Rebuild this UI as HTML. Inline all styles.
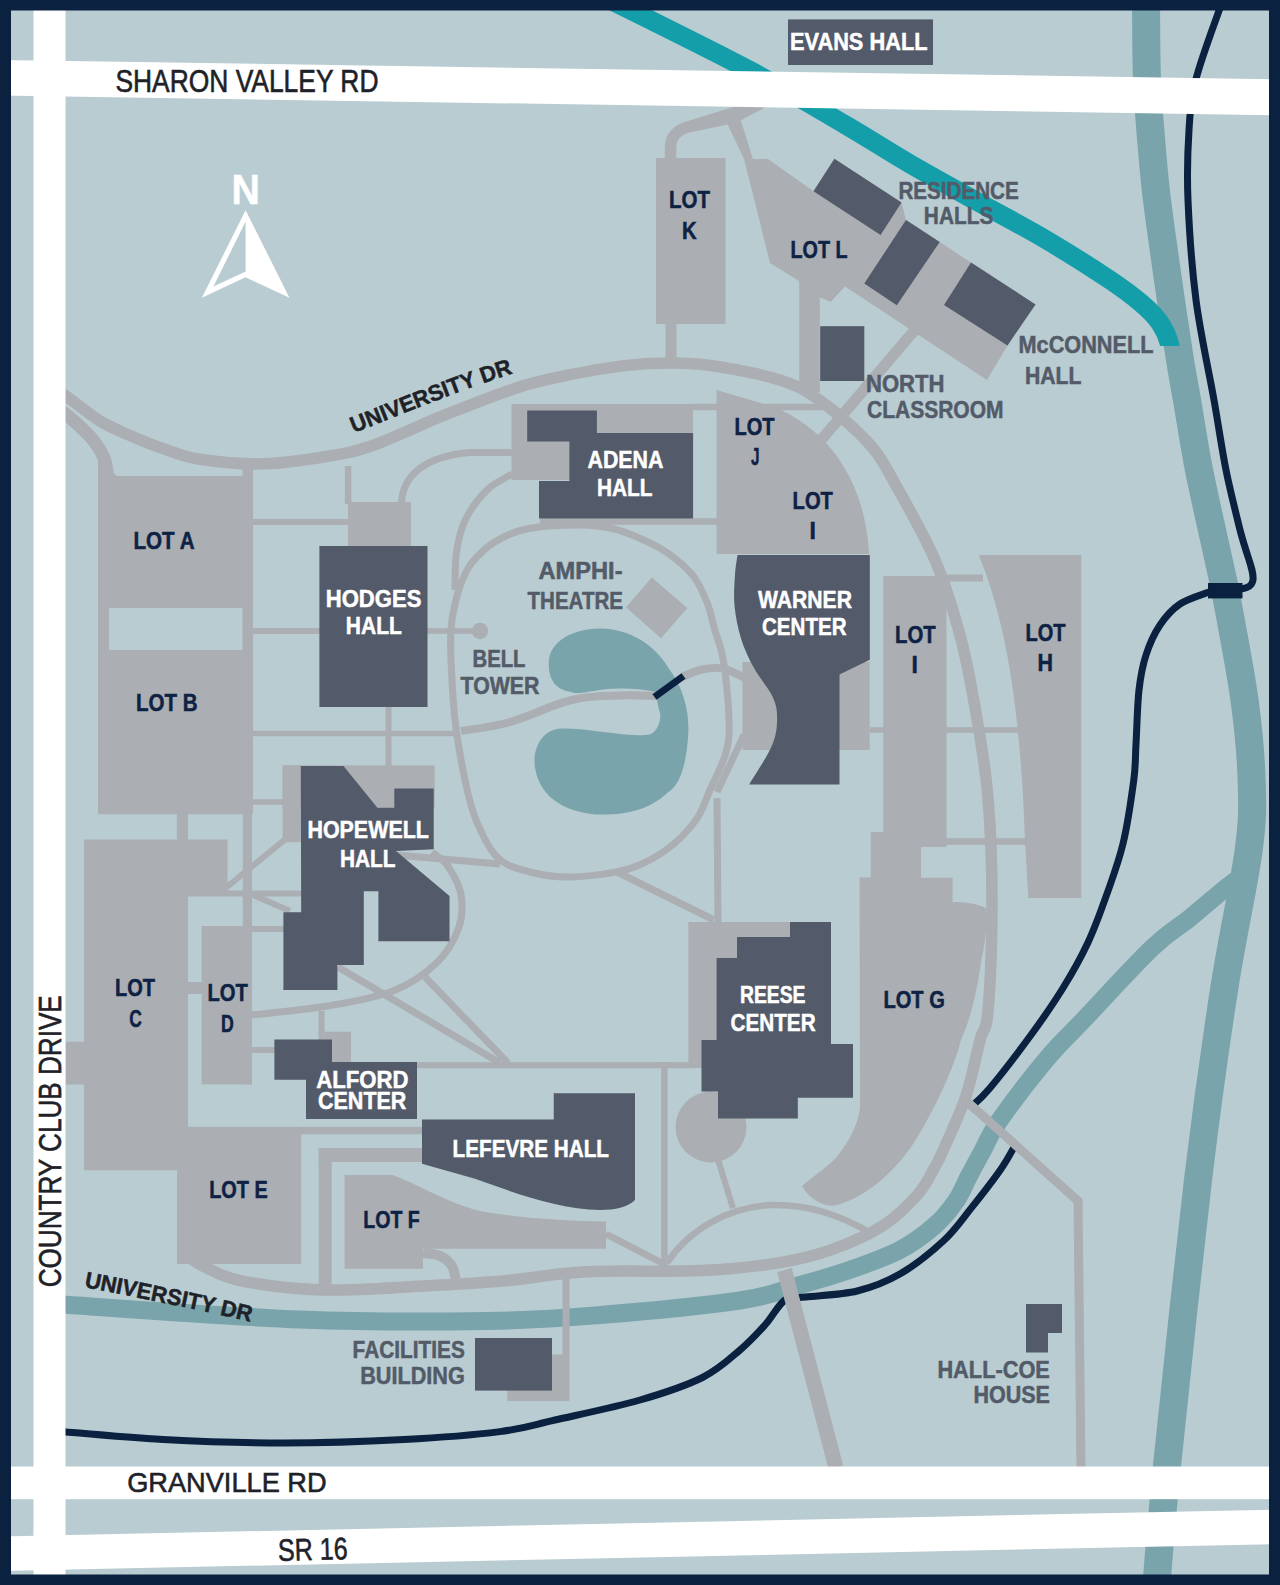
<!DOCTYPE html>
<html><head><meta charset="utf-8"><style>
html,body{margin:0;padding:0;background:#b9ccd1;}
svg{display:block;}
text{font-family:"Liberation Sans",sans-serif;}
</style></head><body>
<svg width="1280" height="1585" viewBox="0 0 1280 1585">
<rect fill="#b9ccd1" x="0.0" y="0.0" width="1280.0" height="1585.0"/>
<path d="M1146.0,-5.0 C1146.2,9.0 1146.0,53.2 1147.0,79.0 C1148.0,104.8 1150.3,129.8 1152.0,150.0 C1153.7,170.2 1154.3,178.3 1157.0,200.0 C1159.7,221.7 1164.2,253.3 1168.0,280.0 C1171.8,306.7 1176.8,340.0 1180.0,360.0 C1183.2,380.0 1183.8,381.7 1187.0,400.0 C1190.2,418.3 1193.7,443.3 1199.0,470.0 C1204.3,496.7 1213.9,538.3 1218.6,560.0 C1223.3,581.7 1222.7,576.7 1227.0,600.0 C1231.3,623.3 1240.4,670.0 1244.5,700.0 C1248.6,730.0 1250.9,755.0 1251.6,780.0 C1252.3,805.0 1253.3,815.0 1248.7,850.0 C1244.1,885.0 1232.5,935.0 1224.0,990.0 C1215.5,1045.0 1207.5,1100.7 1198.0,1180.0 C1188.5,1259.3 1174.0,1397.7 1167.0,1466.0 C1160.0,1534.3 1157.8,1569.3 1156.0,1590.0" fill="none" stroke="#79a4ac" stroke-width="28.0" stroke-linecap="butt" stroke-linejoin="round"/>
<path d="M55.0,1304.0 C95.8,1306.6 228.0,1316.7 300.0,1319.5 C372.0,1322.3 437.0,1321.8 487.0,1321.0 C537.0,1320.2 557.8,1318.4 600.0,1315.0 C642.2,1311.6 707.1,1305.4 740.0,1300.5 C772.9,1295.6 779.1,1290.8 797.2,1285.8 C815.3,1280.8 831.6,1276.3 848.8,1270.3 C865.9,1264.3 886.0,1257.2 900.3,1249.7 C914.6,1242.2 925.4,1233.7 934.7,1225.6 C944.0,1217.5 950.3,1209.3 956.0,1201.0 C961.7,1192.7 964.5,1184.5 969.0,1176.0 C973.5,1167.5 978.0,1159.1 983.0,1150.0 C988.0,1140.9 988.3,1136.3 998.8,1121.3 C1009.3,1106.3 1031.6,1077.0 1045.8,1060.0 C1060.0,1043.0 1066.0,1038.3 1083.8,1019.6 C1101.5,1000.9 1134.3,964.9 1152.0,948.0 C1169.7,931.1 1177.5,928.2 1190.0,918.0 C1202.5,907.8 1217.8,894.3 1227.0,887.0 C1236.2,879.7 1242.0,876.2 1245.0,874.0" fill="none" stroke="#79a4ac" stroke-width="18.0" stroke-linecap="butt" stroke-linejoin="round"/>
<clipPath id="tclip"><rect x="0" y="0" width="1280" height="346"/></clipPath>
<g clip-path="url(#tclip)"><path d="M600.0,-5.0 C624.8,7.5 708.1,48.3 749.0,70.0 C789.9,91.7 818.6,109.2 845.6,125.0 C872.6,140.8 889.1,151.8 911.0,164.5 C932.9,177.2 955.1,189.3 977.0,201.5 C998.9,213.7 1020.7,224.8 1042.5,237.6 C1064.3,250.4 1091.6,267.7 1108.0,278.6 C1124.4,289.5 1132.3,295.6 1141.0,303.0 C1149.7,310.4 1155.2,315.8 1160.0,323.0 C1164.8,330.2 1168.0,336.5 1170.0,346.0 C1172.0,355.5 1171.7,374.3 1172.0,380.0" fill="none" stroke="#139ea9" stroke-width="19.0" stroke-linecap="butt" stroke-linejoin="round"/></g>
<path d="M55.0,390.0 C56.8,391.0 58.5,390.8 66.0,396.0 C73.5,401.2 89.1,414.3 100.0,421.0 C110.9,427.7 120.8,431.4 131.2,436.0 C141.7,440.6 151.0,444.5 162.5,448.4 C174.0,452.3 182.9,456.6 200.0,459.2 C217.1,461.8 243.3,464.4 265.0,463.8 C286.7,463.2 312.1,458.9 330.0,455.9 C347.9,452.8 355.0,451.6 372.5,445.5 C390.0,439.4 420.4,425.1 435.0,419.0 C449.6,412.9 445.8,414.4 460.0,409.0 C474.2,403.6 502.5,392.4 520.0,386.8 C537.5,381.2 547.1,379.3 565.0,375.7 C582.9,372.1 606.7,367.4 627.5,365.4 C648.3,363.4 669.4,362.4 690.0,363.6 C710.6,364.8 733.3,369.0 751.0,372.7 C768.7,376.4 783.5,380.6 796.0,386.0 C808.5,391.4 816.4,398.0 826.0,405.0 C835.6,412.0 845.2,420.2 853.5,428.0 C861.8,435.8 869.4,443.3 876.0,452.0 C882.6,460.7 883.2,462.0 893.0,480.0 C902.8,498.0 923.7,533.5 935.0,560.0 C946.3,586.5 954.0,612.5 961.0,639.0 C968.0,665.5 972.5,692.5 977.0,719.0 C981.5,745.5 985.5,767.8 988.0,798.0 C990.5,828.2 992.0,864.5 992.0,900.0 C992.0,935.5 990.0,987.7 988.0,1011.0 C986.0,1034.3 983.7,1025.8 980.0,1040.0 C976.3,1054.2 972.1,1077.7 966.0,1096.0 C959.9,1114.3 948.5,1138.1 943.3,1150.0 C938.1,1161.9 939.0,1159.8 934.7,1167.2 C930.4,1174.7 926.1,1185.0 917.5,1194.7 C908.9,1204.4 897.3,1216.4 883.0,1225.6 C868.7,1234.8 848.8,1243.5 831.6,1249.7 C814.4,1255.9 801.9,1259.1 780.0,1262.6 C758.1,1266.1 732.3,1269.1 700.0,1270.6 C667.7,1272.1 618.5,1270.1 586.0,1271.8 C553.5,1273.5 532.0,1278.4 505.0,1280.8 C478.0,1283.2 454.2,1284.5 423.8,1286.0 C393.2,1287.5 352.5,1290.9 322.0,1290.0 C291.5,1289.1 260.7,1284.7 241.0,1280.8 C221.3,1276.9 212.5,1270.4 204.0,1266.6 C195.5,1262.8 192.3,1259.4 190.0,1258.0" fill="none" stroke="#abaeb2" stroke-width="11.5" stroke-linecap="butt" stroke-linejoin="round"/>
<path d="M58.0,408.0 C60.8,410.3 69.2,416.7 75.0,422.0 C80.8,427.3 88.2,434.0 93.0,440.0 C97.8,446.0 101.5,451.7 104.0,458.0 C106.5,464.3 107.3,474.7 108.0,478.0" fill="none" stroke="#abaeb2" stroke-width="13.0" stroke-linecap="butt" stroke-linejoin="round"/>
<path fill="#abaeb2" d="M664.8,159 L664.8,147 C664.8,135 673,124 688,121 L736.4,106 L767.6,106 L740.8,120.2 L752.8,159 L744,159 L727.7,124.5 L690,132.5 C680,135 676.3,140 676.3,148 L676.3,159 Z"/>
<path d="M671.0,322.0 L671.0,366.0" fill="none" stroke="#abaeb2" stroke-width="11.0" stroke-linecap="butt" stroke-linejoin="miter"/>
<path d="M809.5,280.0 L809.5,392.0" fill="none" stroke="#abaeb2" stroke-width="20.5" stroke-linecap="butt" stroke-linejoin="miter"/>
<path d="M919.0,325.0 L816.0,446.0" fill="none" stroke="#abaeb2" stroke-width="11.0" stroke-linecap="butt" stroke-linejoin="miter"/>
<path d="M348.1,466.0 L348.1,504.0" fill="none" stroke="#abaeb2" stroke-width="6.5" stroke-linecap="butt" stroke-linejoin="miter"/>
<path d="M250.0,522.0 L350.0,522.0" fill="none" stroke="#abaeb2" stroke-width="6.0" stroke-linecap="butt" stroke-linejoin="miter"/>
<path d="M250.0,631.0 L320.0,631.0" fill="none" stroke="#abaeb2" stroke-width="6.0" stroke-linecap="butt" stroke-linejoin="miter"/>
<path d="M427.0,631.0 L478.0,631.0" fill="none" stroke="#abaeb2" stroke-width="5.5" stroke-linecap="butt" stroke-linejoin="miter"/>
<circle cx="480" cy="631" r="8.2" fill="#abaeb2"/>
<path d="M252.0,733.4 L455.0,733.4" fill="none" stroke="#abaeb2" stroke-width="5.5" stroke-linecap="butt" stroke-linejoin="miter"/>
<path d="M388.5,707.0 L388.5,808.0" fill="none" stroke="#abaeb2" stroke-width="6.0" stroke-linecap="butt" stroke-linejoin="miter"/>
<path d="M401.5,504 C402,476 425,456 470,452.5 L514,452.5" fill="none" stroke="#abaeb2" stroke-width="7.0" stroke-linecap="butt" stroke-linejoin="round"/>
<path d="M512.0,474.0 C507.8,476.7 494.8,482.3 487.0,490.0 C479.2,497.7 470.3,509.5 465.2,520.0 C460.1,530.5 458.1,541.1 456.4,552.8 C454.7,564.5 455.2,583.8 455.0,590.0" fill="none" stroke="#abaeb2" stroke-width="7.0" stroke-linecap="butt" stroke-linejoin="round"/>
<path d="M690.0,407.0 L824.0,407.0" fill="none" stroke="#abaeb2" stroke-width="6.5" stroke-linecap="butt" stroke-linejoin="miter"/>
<path d="M540.0,521.5 L718.0,521.5" fill="none" stroke="#abaeb2" stroke-width="6.5" stroke-linecap="butt" stroke-linejoin="miter"/>
<path d="M580.0,525.0 C593.8,524.9 601.2,526.3 610.0,528.0 C618.8,529.7 623.5,531.3 632.8,535.2 C642.1,539.1 655.6,544.9 665.6,551.6 C675.6,558.3 686.1,567.0 693.0,575.6 C699.9,584.2 703.6,593.9 707.2,603.0 C710.9,612.1 712.2,620.8 714.9,630.3 C717.6,639.8 720.9,645.0 723.3,660.0 C725.6,675.0 728.5,704.6 729.0,720.0 C729.5,735.4 729.2,740.8 726.0,752.5 C722.8,764.2 715.0,778.8 710.0,790.0 C705.0,801.2 703.3,810.0 696.0,820.0 C688.7,830.0 677.2,841.9 666.0,850.0 C654.8,858.1 644.3,864.2 628.8,868.8 C613.2,873.2 589.0,876.5 572.5,877.0 C556.0,877.5 542.5,875.2 530.0,872.0 C517.5,868.8 506.5,866.2 497.5,857.5 C488.5,848.8 481.4,832.9 476.0,820.0 C470.6,807.1 468.5,796.7 465.0,780.0 C461.5,763.3 457.3,740.0 455.0,720.0 C452.7,700.0 451.7,675.1 451.0,660.0 C450.3,644.9 450.5,638.1 451.0,629.4 C451.5,620.6 452.4,615.5 454.2,607.5 C456.0,599.5 458.8,588.9 461.9,581.3 C465.0,573.6 467.3,568.2 472.8,561.6 C478.3,555.0 485.6,547.4 494.7,541.9 C503.8,536.4 513.3,531.6 527.5,528.8 C541.7,525.9 566.2,525.1 580.0,525.0Z" fill="none" stroke="#abaeb2" stroke-width="7.0" stroke-linecap="butt" stroke-linejoin="round"/>
<path d="M461.0,731.0 C469.2,729.5 491.6,727.2 510.0,722.0 C528.4,716.8 553.2,704.4 571.5,700.0 C589.8,695.6 605.9,696.2 620.0,695.5 C634.1,694.8 650.0,695.9 656.0,696.0" fill="none" stroke="#abaeb2" stroke-width="8.0" stroke-linecap="butt" stroke-linejoin="round"/>
<path d="M682.0,677.0 C685.3,675.8 695.0,670.9 701.8,669.5 C708.6,668.1 715.8,667.1 723.0,668.5 C730.2,669.9 741.3,676.4 745.0,678.0" fill="none" stroke="#abaeb2" stroke-width="8.0" stroke-linecap="butt" stroke-linejoin="round"/>
<path d="M744.0,735.0 L717.0,792.0" fill="none" stroke="#abaeb2" stroke-width="7.0" stroke-linecap="butt" stroke-linejoin="miter"/>
<path d="M717.0,798.0 L718.0,924.0" fill="none" stroke="#abaeb2" stroke-width="7.0" stroke-linecap="butt" stroke-linejoin="miter"/>
<path d="M617.0,872.0 L714.0,920.0" fill="none" stroke="#abaeb2" stroke-width="7.0" stroke-linecap="butt" stroke-linejoin="miter"/>
<path d="M396.0,855.0 L500.0,864.0" fill="none" stroke="#abaeb2" stroke-width="7.0" stroke-linecap="butt" stroke-linejoin="miter"/>
<path d="M226.6,887.3 L286.0,838.6" fill="none" stroke="#abaeb2" stroke-width="6.0" stroke-linecap="butt" stroke-linejoin="miter"/>
<path d="M252.0,894.5 L290.0,911.0" fill="none" stroke="#abaeb2" stroke-width="6.0" stroke-linecap="butt" stroke-linejoin="miter"/>
<path d="M227.0,893.5 L302.0,893.5" fill="none" stroke="#abaeb2" stroke-width="6.0" stroke-linecap="butt" stroke-linejoin="miter"/>
<path d="M250.0,802.0 L284.0,802.0" fill="none" stroke="#abaeb2" stroke-width="5.5" stroke-linecap="butt" stroke-linejoin="miter"/>
<path d="M250.0,929.0 L284.0,929.0" fill="none" stroke="#abaeb2" stroke-width="6.0" stroke-linecap="butt" stroke-linejoin="miter"/>
<path d="M250.0,1050.0 L275.0,1050.0" fill="none" stroke="#abaeb2" stroke-width="6.0" stroke-linecap="butt" stroke-linejoin="miter"/>
<path d="M186.0,988.0 L203.0,988.0" fill="none" stroke="#abaeb2" stroke-width="12.0" stroke-linecap="butt" stroke-linejoin="miter"/>
<path d="M338.0,967.0 L500.0,1063.0" fill="none" stroke="#abaeb2" stroke-width="7.0" stroke-linecap="butt" stroke-linejoin="miter"/>
<path d="M425.0,977.0 L508.0,1063.0" fill="none" stroke="#abaeb2" stroke-width="7.0" stroke-linecap="butt" stroke-linejoin="miter"/>
<path d="M252.0,1015.0 C264.6,1013.5 304.0,1010.0 327.5,1006.0 C351.0,1002.0 374.8,998.2 393.0,991.0 C411.2,983.8 426.0,973.1 437.0,962.5 C448.0,951.9 454.8,938.8 458.8,927.5 C462.8,916.2 462.8,905.0 461.0,894.7 C459.2,884.5 452.6,873.1 447.8,866.0 C443.0,858.9 434.6,854.3 432.0,852.0" fill="none" stroke="#abaeb2" stroke-width="7.0" stroke-linecap="butt" stroke-linejoin="round"/>
<path d="M321.5,1011.0 L321.5,1040.0" fill="none" stroke="#abaeb2" stroke-width="6.0" stroke-linecap="butt" stroke-linejoin="miter"/>
<path d="M417.0,1065.3 L695.0,1065.3" fill="none" stroke="#abaeb2" stroke-width="6.0" stroke-linecap="butt" stroke-linejoin="miter"/>
<path d="M187.0,1130.5 L425.0,1130.5" fill="none" stroke="#abaeb2" stroke-width="7.5" stroke-linecap="butt" stroke-linejoin="miter"/>
<path d="M664.4,1062.0 L664.4,1268.0" fill="none" stroke="#abaeb2" stroke-width="6.5" stroke-linecap="butt" stroke-linejoin="miter"/>
<rect fill="#abaeb2" x="690.0" y="1020.0" width="11.0" height="46.0"/>
<path d="M325.2,1148.0 L325.2,1285.0" fill="none" stroke="#abaeb2" stroke-width="13.0" stroke-linecap="butt" stroke-linejoin="miter"/>
<path d="M318.7,1155.0 L424.0,1155.0" fill="none" stroke="#abaeb2" stroke-width="14.0" stroke-linecap="butt" stroke-linejoin="miter"/>
<path d="M423.0,1253.0 C425.8,1253.5 435.2,1253.8 440.0,1256.0 C444.8,1258.2 449.3,1261.7 452.0,1266.0 C454.7,1270.3 455.3,1279.3 456.0,1282.0" fill="none" stroke="#abaeb2" stroke-width="10.0" stroke-linecap="butt" stroke-linejoin="round"/>
<path d="M606.0,1234.0 L664.0,1264.0" fill="none" stroke="#abaeb2" stroke-width="7.0" stroke-linecap="butt" stroke-linejoin="miter"/>
<path d="M667,1263 C690,1228 730,1207 772,1205 C810,1204 845,1218 869,1232" fill="none" stroke="#abaeb2" stroke-width="6.5" stroke-linecap="butt" stroke-linejoin="round"/>
<path d="M715.6,1152.0 L733.0,1208.0" fill="none" stroke="#abaeb2" stroke-width="6.0" stroke-linecap="butt" stroke-linejoin="miter"/>
<path d="M566.0,1278.0 L566.0,1400.0" fill="none" stroke="#abaeb2" stroke-width="7.0" stroke-linecap="butt" stroke-linejoin="miter"/>
<path d="M945.0,578.0 L983.0,578.0" fill="none" stroke="#abaeb2" stroke-width="7.0" stroke-linecap="butt" stroke-linejoin="miter"/>
<path d="M870.0,730.0 L1020.0,730.0" fill="none" stroke="#abaeb2" stroke-width="5.5" stroke-linecap="butt" stroke-linejoin="miter"/>
<path d="M945.0,841.5 L1030.0,841.5" fill="none" stroke="#abaeb2" stroke-width="6.5" stroke-linecap="butt" stroke-linejoin="miter"/>
<rect fill="#abaeb2" x="656.0" y="158.0" width="69.5" height="166.0"/>
<polygon fill="#abaeb2" points="744.0,159.0 768.0,159.0 813.5,191.3 834.4,158.8 901.5,202.5 906.0,220.0 939.7,242.0 971.0,262.6 1035.5,304.4 1007.5,345.5 987.0,380.0 845.0,286.6 830.8,301.8 820.6,297.7 799.0,281.0 770.0,263.0 755.0,202.5"/>
<path fill="#abaeb2" d="M716.6,390 L774,407 C835,432 866,490 869,554 L716.6,554 Z"/>
<rect fill="#abaeb2" x="511.5" y="404.0" width="181.5" height="76.0"/>
<rect fill="#abaeb2" x="348.0" y="502.0" width="63.0" height="44.0"/>
<polygon fill="#abaeb2" points="98.0,461.0 117.0,476.0 253.0,476.0 253.0,814.2 188.0,814.2 188.0,839.6 227.6,839.6 227.6,896.5 188.0,896.5 188.0,1127.0 301.2,1127.0 301.2,1264.0 177.0,1264.0 177.0,1170.3 84.0,1170.3 84.0,1084.4 65.5,1084.4 65.5,1041.7 84.0,1041.7 84.0,839.6 176.8,839.6 176.8,814.2 98.0,814.2"/>
<rect fill="#b9ccd1" x="109.0" y="608.0" width="133.5" height="42.0"/>
<rect fill="#abaeb2" x="242.5" y="462.0" width="10.5" height="14.0"/>
<rect fill="#abaeb2" x="201.6" y="926.0" width="50.4" height="158.4"/>
<rect fill="#abaeb2" x="242.8" y="814.0" width="9.2" height="270.4"/>
<rect fill="#abaeb2" x="282.6" y="765.4" width="152.1" height="42.3"/>
<rect fill="#abaeb2" x="282.6" y="765.4" width="18.2" height="76.8"/>
<rect fill="#abaeb2" x="742.5" y="662.0" width="127.2" height="88.0"/>
<path fill="#abaeb2" d="M883.3,576 L946.5,576 L946.5,847 L921,847 L921,877.7 L952.6,877.7 L952.6,902 C965,902 978,904 986,908 C987,930 985,945 981.4,960 C977,990 972,1015 961,1040 C955,1065 935,1110 912.5,1145 C895,1170 870,1195 837.5,1205 C825,1208 810,1200 802,1186 C815,1175 830,1165 837.5,1156 C848,1142 856,1130 860,1109 L859.6,877.5 L870.7,877.5 L870.7,832 L883.3,832 Z"/>
<path fill="#abaeb2" d="M978.75,555 L1081.3,555 L1081.3,898 L1028.3,898 L1025,840 C1020,700 1005,620 978.75,555 Z"/>
<rect fill="#abaeb2" x="688.4" y="922.0" width="101.6" height="146.0"/>
<circle cx="711" cy="1127" r="35.5" fill="#abaeb2"/>
<rect fill="#abaeb2" x="324.4" y="1031.7" width="26.6" height="30.3"/>
<path fill="#abaeb2" d="M344.6,1175 L392.6,1175 C420,1185 445,1202 480,1211 C530,1220 580,1221 606,1221.5 L606,1248.8 L423,1248.8 L423,1268.75 L344.6,1268.75 Z"/>
<rect fill="#abaeb2" x="507.3" y="1354.5" width="61.9" height="46.5"/>
<polygon fill="#abaeb2" points="651.8,577.6 687.3,607.9 660.9,638.2 626.0,607.3"/>
<rect fill="#535a69" x="788.0" y="19.4" width="145.0" height="45.6"/>
<polygon fill="#535a69" points="834.4,158.8 901.5,202.5 880.6,235.0 813.5,191.3"/>
<polygon fill="#535a69" points="906.0,220.0 939.7,242.0 896.8,305.2 864.3,283.5"/>
<polygon fill="#535a69" points="971.0,262.6 1035.5,304.4 1007.5,345.5 944.0,304.9"/>
<rect fill="#535a69" x="820.2" y="326.2" width="44.1" height="54.8"/>
<polygon fill="#535a69" points="527.2,410.6 596.9,410.6 596.9,433.1 693.1,433.1 693.1,518.4 539.0,518.4 539.0,481.0 569.4,481.0 569.4,441.6 527.2,441.6"/>
<rect fill="#535a69" x="319.4" y="546.0" width="108.1" height="161.0"/>
<path fill="#535a69" d="M737.5,555 L869.8,555 L869.8,659.8 L839.5,674.5 L839.5,784.5 L749.2,784.5 C753.0,777.9 767.6,756.2 772.2,745.0 C776.9,733.8 777.1,725.4 777.1,717.2 C777.1,709.0 776.1,704.1 772.2,695.9 C768.4,687.7 759.2,677.6 754.0,668.0 C748.8,658.4 744.2,648.8 741.0,638.4 C737.8,628.0 735.5,616.2 734.5,605.6 C733.5,595.0 734.5,583.4 735.0,575.0 C735.5,566.6 737.1,558.3 737.5,555.0 Z"/>
<polygon fill="#535a69" points="300.8,766.0 343.5,766.0 377.4,807.7 394.3,807.7 394.3,788.4 433.7,788.4 433.7,849.3 396.0,851.0 449.5,896.0 449.5,941.3 378.4,941.3 378.4,891.3 363.8,891.3 363.8,965.0 337.4,965.0 337.4,990.0 283.4,990.0 283.4,912.3 301.2,912.3"/>
<polygon fill="#535a69" points="790.0,922.0 831.0,922.0 831.0,1044.0 853.0,1044.0 853.0,1097.8 797.8,1097.8 797.8,1118.4 718.0,1118.4 718.0,1091.6 701.5,1091.6 701.5,1040.0 716.6,1040.0 716.6,958.0 737.0,958.0 737.0,937.0 790.0,937.0"/>
<polygon fill="#535a69" points="274.4,1039.5 332.0,1039.5 332.0,1062.0 417.0,1062.0 417.0,1118.9 306.0,1118.9 306.0,1079.7 274.4,1079.7"/>
<path fill="#535a69" d="M422,1119.5 L553.75,1119.5 L553.75,1093.25 L635,1093.25 L635,1200 C628,1207 615,1210 600,1210 C560,1209 520,1195 475,1178.75 L422,1163.75 Z"/>
<rect fill="#535a69" x="475.0" y="1338.0" width="77.0" height="52.6"/>
<polygon fill="#535a69" points="1026.0,1304.0 1062.0,1304.0 1062.0,1333.0 1048.0,1333.0 1048.0,1352.5 1026.0,1352.5"/>
<path fill="#79a4ac" d="M548.7,664.7 C548,640 575,628 601.7,628.4 C630,629 655,645 668.3,667.7 C685,690 690,715 688,737.4 C686,765 680,785 668.3,792 C650,810 625,815 601.7,814.6 C570,814 540,800 535,767.7 C532,745 545,728 562.3,728.5 C590,728 630,738 650,734.5 C660,730 662,715 659,710 C657,700 656,695 656,692 C640,688 620,688 607.7,689 C590,691 575,695 571.5,692 C556,690 549,680 548.7,664.7 Z"/>
<path d="M654.5,697.0 L683.5,676.0" fill="none" stroke="#0b2140" stroke-width="7.0" stroke-linecap="butt" stroke-linejoin="miter"/>
<path d="M1221.0,5.0 C1216.8,17.3 1201.3,58.2 1196.0,79.0 C1190.7,99.8 1190.3,109.8 1189.0,130.0 C1187.7,150.2 1186.8,171.7 1188.0,200.0 C1189.2,228.3 1191.7,266.7 1196.0,300.0 C1200.3,333.3 1209.0,371.7 1214.0,400.0 C1219.0,428.3 1221.7,448.3 1226.0,470.0 C1230.3,491.7 1237.7,520.0 1240.0,530.0 C1248,560 1254,570 1253,580 C1252,586 1248,588 1240,589" fill="none" stroke="#0b2140" stroke-width="7.0" stroke-linecap="butt" stroke-linejoin="round"/>
<rect fill="#0b2140" x="1208.0" y="583.0" width="34.5" height="15.4"/>
<path d="M1209.0,592.0 C1204.2,594.0 1188.2,598.5 1180.0,604.0 C1171.8,609.5 1165.7,616.5 1160.0,625.0 C1154.3,633.5 1149.5,644.2 1146.0,655.0 C1142.5,665.8 1140.7,675.2 1139.0,690.0 C1137.3,704.8 1136.9,729.0 1136.0,744.0 C1135.1,759.0 1135.9,763.6 1133.8,780.0 C1131.6,796.4 1127.8,823.4 1123.3,842.5 C1118.8,861.6 1112.6,877.9 1106.7,894.6 C1100.8,911.3 1095.3,926.9 1088.0,942.5 C1080.7,958.1 1072.4,972.8 1063.0,988.0 C1053.6,1003.2 1043.9,1017.3 1031.7,1034.0 C1019.5,1050.7 1000.0,1076.0 990.0,1088.0 C980.0,1100.0 975.0,1103.0 972.0,1106.0" fill="none" stroke="#0b2140" stroke-width="7.0" stroke-linecap="butt" stroke-linejoin="round"/>
<path d="M972.0,1106.0 L1015.6,1144.4" fill="none" stroke="#0b2140" stroke-width="7.0" stroke-linecap="butt" stroke-linejoin="miter"/>
<path d="M1015.6,1144.4 C1013.2,1148.5 1008.4,1158.3 1001.0,1169.0 C993.6,1179.7 980.6,1196.4 971.0,1208.4 C961.4,1220.4 955.1,1230.1 943.3,1241.0 C931.5,1251.9 914.6,1265.4 900.3,1273.8 C886.0,1282.1 873.0,1287.1 857.3,1291.0 C841.5,1294.9 817.8,1295.5 805.8,1297.0 C793.8,1298.5 791.8,1295.3 785.0,1300.0 C778.2,1304.7 772.5,1316.7 765.0,1325.0 C757.5,1333.3 750.4,1341.2 740.0,1350.0 C729.6,1358.8 719.2,1369.2 702.5,1377.5 C685.8,1385.8 664.6,1392.9 640.0,1400.0 C615.4,1407.1 578.3,1414.7 555.0,1420.0 C531.7,1425.3 525.2,1428.3 500.0,1431.6 C474.8,1434.8 439.9,1437.6 403.8,1439.5 C367.6,1441.4 323.5,1443.0 283.4,1443.0 C243.3,1443.0 201.1,1441.5 163.0,1439.5 C124.9,1437.5 73.0,1432.4 55.0,1431.0" fill="none" stroke="#0b2140" stroke-width="7.0" stroke-linecap="butt" stroke-linejoin="round"/>
<path d="M967.8,1102.3 L1078.0,1201.0 L1081.0,1470.0" fill="none" stroke="#abaeb2" stroke-width="9.0" stroke-linecap="butt" stroke-linejoin="miter"/>
<path d="M784.5,1270.0 L836.0,1468.0" fill="none" stroke="#abaeb2" stroke-width="15.0" stroke-linecap="butt" stroke-linejoin="miter"/>
<rect fill="#ffffff" x="33.5" y="0.0" width="32.0" height="1585.0"/>
<polygon fill="#ffffff" points="0.0,60.0 1280.0,79.3 1280.0,115.3 0.0,95.5"/>
<rect fill="#ffffff" x="0.0" y="1466.5" width="1280.0" height="32.7"/>
<polygon fill="#ffffff" points="0.0,1536.5 1280.0,1509.5 1280.0,1544.0 0.0,1571.0"/>
<path fill="#ffffff" fill-rule="evenodd" d="M245.6,210.2 L289.4,297.7 L245.6,277.3 L201.9,297.7 Z M245.6,221.5 L245.6,271.6 L213.4,286.6 Z"/>
<text x="115.40" y="92.00" font-size="31.00" font-weight="normal" fill="#1e2228" stroke="#1e2228" stroke-width="0.60" textLength="263.10" lengthAdjust="spacingAndGlyphs">SHARON VALLEY RD</text>
<text x="231.60" y="204.00" font-size="42.00" font-weight="bold" fill="#ffffff" stroke="#ffffff" stroke-width="0.50" textLength="28.40" lengthAdjust="spacingAndGlyphs">N</text>
<text x="790.00" y="50.00" font-size="23.70" font-weight="bold" fill="#ffffff" stroke="#ffffff" stroke-width="0.50" textLength="137.50" lengthAdjust="spacingAndGlyphs">EVANS HALL</text>
<text x="669.00" y="207.80" font-size="23.70" font-weight="bold" fill="#0d2244" stroke="#0d2244" stroke-width="0.50" textLength="40.90" lengthAdjust="spacingAndGlyphs">LOT</text>
<text x="682.00" y="238.75" font-size="23.70" font-weight="bold" fill="#0d2244" stroke="#0d2244" stroke-width="0.50" textLength="14.70" lengthAdjust="spacingAndGlyphs">K</text>
<text x="790.50" y="257.50" font-size="23.70" font-weight="bold" fill="#0d2244" stroke="#0d2244" stroke-width="0.50" textLength="57.00" lengthAdjust="spacingAndGlyphs">LOT L</text>
<text x="898.40" y="198.50" font-size="23.70" font-weight="bold" fill="#535b69" stroke="#535b69" stroke-width="0.50" textLength="120.40" lengthAdjust="spacingAndGlyphs">RESIDENCE</text>
<text x="923.80" y="223.70" font-size="23.70" font-weight="bold" fill="#535b69" stroke="#535b69" stroke-width="0.50" textLength="69.60" lengthAdjust="spacingAndGlyphs">HALLS</text>
<text x="1018.50" y="352.80" font-size="23.70" font-weight="bold" fill="#535b69" stroke="#535b69" stroke-width="0.50" textLength="135.00" lengthAdjust="spacingAndGlyphs">McCONNELL</text>
<text x="1025.00" y="383.80" font-size="23.70" font-weight="bold" fill="#535b69" stroke="#535b69" stroke-width="0.50" textLength="56.50" lengthAdjust="spacingAndGlyphs">HALL</text>
<text x="866.00" y="392.30" font-size="23.70" font-weight="bold" fill="#535b69" stroke="#535b69" stroke-width="0.50" textLength="78.50" lengthAdjust="spacingAndGlyphs">NORTH</text>
<text x="867.00" y="418.00" font-size="23.70" font-weight="bold" fill="#535b69" stroke="#535b69" stroke-width="0.50" textLength="136.50" lengthAdjust="spacingAndGlyphs">CLASSROOM</text>
<text x="587.50" y="468.30" font-size="23.70" font-weight="bold" fill="#ffffff" stroke="#ffffff" stroke-width="0.50" textLength="76.00" lengthAdjust="spacingAndGlyphs">ADENA</text>
<text x="597.00" y="495.50" font-size="23.70" font-weight="bold" fill="#ffffff" stroke="#ffffff" stroke-width="0.50" textLength="55.50" lengthAdjust="spacingAndGlyphs">HALL</text>
<text x="734.50" y="434.50" font-size="23.70" font-weight="bold" fill="#0d2244" stroke="#0d2244" stroke-width="0.50" textLength="40.00" lengthAdjust="spacingAndGlyphs">LOT</text>
<text x="751.00" y="465.00" font-size="23.70" font-weight="bold" fill="#0d2244" stroke="#0d2244" stroke-width="0.50" textLength="8.50" lengthAdjust="spacingAndGlyphs">J</text>
<text x="792.60" y="508.60" font-size="23.70" font-weight="bold" fill="#0d2244" stroke="#0d2244" stroke-width="0.50" textLength="40.30" lengthAdjust="spacingAndGlyphs">LOT</text>
<text x="809.60" y="539.00" font-size="23.70" font-weight="bold" fill="#0d2244" stroke="#0d2244" stroke-width="0.50" textLength="6.40" lengthAdjust="spacingAndGlyphs">I</text>
<text x="133.50" y="549.00" font-size="23.70" font-weight="bold" fill="#0d2244" stroke="#0d2244" stroke-width="0.50" textLength="61.00" lengthAdjust="spacingAndGlyphs">LOT A</text>
<text x="325.70" y="606.50" font-size="23.70" font-weight="bold" fill="#ffffff" stroke="#ffffff" stroke-width="0.50" textLength="95.80" lengthAdjust="spacingAndGlyphs">HODGES</text>
<text x="345.80" y="634.00" font-size="23.70" font-weight="bold" fill="#ffffff" stroke="#ffffff" stroke-width="0.50" textLength="56.00" lengthAdjust="spacingAndGlyphs">HALL</text>
<text x="538.50" y="579.00" font-size="23.70" font-weight="bold" fill="#535b69" stroke="#535b69" stroke-width="0.50" textLength="84.00" lengthAdjust="spacingAndGlyphs">AMPHI-</text>
<text x="527.50" y="608.70" font-size="23.70" font-weight="bold" fill="#535b69" stroke="#535b69" stroke-width="0.50" textLength="95.50" lengthAdjust="spacingAndGlyphs">THEATRE</text>
<text x="758.00" y="607.50" font-size="23.70" font-weight="bold" fill="#ffffff" stroke="#ffffff" stroke-width="0.50" textLength="94.00" lengthAdjust="spacingAndGlyphs">WARNER</text>
<text x="762.00" y="635.00" font-size="23.70" font-weight="bold" fill="#ffffff" stroke="#ffffff" stroke-width="0.50" textLength="84.50" lengthAdjust="spacingAndGlyphs">CENTER</text>
<text x="895.00" y="642.80" font-size="23.70" font-weight="bold" fill="#0d2244" stroke="#0d2244" stroke-width="0.50" textLength="40.60" lengthAdjust="spacingAndGlyphs">LOT</text>
<text x="911.60" y="672.80" font-size="23.70" font-weight="bold" fill="#0d2244" stroke="#0d2244" stroke-width="0.50" textLength="6.40" lengthAdjust="spacingAndGlyphs">I</text>
<text x="1025.50" y="641.00" font-size="23.70" font-weight="bold" fill="#0d2244" stroke="#0d2244" stroke-width="0.50" textLength="40.00" lengthAdjust="spacingAndGlyphs">LOT</text>
<text x="1037.50" y="671.00" font-size="23.70" font-weight="bold" fill="#0d2244" stroke="#0d2244" stroke-width="0.50" textLength="15.50" lengthAdjust="spacingAndGlyphs">H</text>
<text x="472.50" y="666.50" font-size="23.70" font-weight="bold" fill="#535b69" stroke="#535b69" stroke-width="0.50" textLength="53.00" lengthAdjust="spacingAndGlyphs">BELL</text>
<text x="460.50" y="694.00" font-size="23.70" font-weight="bold" fill="#535b69" stroke="#535b69" stroke-width="0.50" textLength="79.00" lengthAdjust="spacingAndGlyphs">TOWER</text>
<text x="136.00" y="710.60" font-size="23.70" font-weight="bold" fill="#0d2244" stroke="#0d2244" stroke-width="0.50" textLength="61.50" lengthAdjust="spacingAndGlyphs">LOT B</text>
<text x="307.40" y="838.40" font-size="23.70" font-weight="bold" fill="#ffffff" stroke="#ffffff" stroke-width="0.50" textLength="121.50" lengthAdjust="spacingAndGlyphs">HOPEWELL</text>
<text x="340.00" y="866.50" font-size="23.70" font-weight="bold" fill="#ffffff" stroke="#ffffff" stroke-width="0.50" textLength="55.50" lengthAdjust="spacingAndGlyphs">HALL</text>
<text x="115.00" y="996.00" font-size="23.70" font-weight="bold" fill="#0d2244" stroke="#0d2244" stroke-width="0.50" textLength="40.00" lengthAdjust="spacingAndGlyphs">LOT</text>
<text x="129.20" y="1027.00" font-size="23.70" font-weight="bold" fill="#0d2244" stroke="#0d2244" stroke-width="0.50" textLength="12.60" lengthAdjust="spacingAndGlyphs">C</text>
<text x="207.40" y="1001.00" font-size="23.70" font-weight="bold" fill="#0d2244" stroke="#0d2244" stroke-width="0.50" textLength="40.40" lengthAdjust="spacingAndGlyphs">LOT</text>
<text x="221.00" y="1031.50" font-size="23.70" font-weight="bold" fill="#0d2244" stroke="#0d2244" stroke-width="0.50" textLength="12.80" lengthAdjust="spacingAndGlyphs">D</text>
<text x="740.00" y="1003.00" font-size="23.70" font-weight="bold" fill="#ffffff" stroke="#ffffff" stroke-width="0.50" textLength="65.50" lengthAdjust="spacingAndGlyphs">REESE</text>
<text x="730.50" y="1030.60" font-size="23.70" font-weight="bold" fill="#ffffff" stroke="#ffffff" stroke-width="0.50" textLength="85.10" lengthAdjust="spacingAndGlyphs">CENTER</text>
<text x="883.40" y="1007.50" font-size="23.70" font-weight="bold" fill="#0d2244" stroke="#0d2244" stroke-width="0.50" textLength="61.50" lengthAdjust="spacingAndGlyphs">LOT G</text>
<text x="316.20" y="1087.80" font-size="23.70" font-weight="bold" fill="#ffffff" stroke="#ffffff" stroke-width="0.50" textLength="92.30" lengthAdjust="spacingAndGlyphs">ALFORD</text>
<text x="318.00" y="1108.80" font-size="23.70" font-weight="bold" fill="#ffffff" stroke="#ffffff" stroke-width="0.50" textLength="88.40" lengthAdjust="spacingAndGlyphs">CENTER</text>
<text x="452.60" y="1157.00" font-size="23.70" font-weight="bold" fill="#ffffff" stroke="#ffffff" stroke-width="0.50" textLength="156.40" lengthAdjust="spacingAndGlyphs">LEFEVRE HALL</text>
<text x="209.20" y="1198.40" font-size="23.70" font-weight="bold" fill="#0d2244" stroke="#0d2244" stroke-width="0.50" textLength="58.60" lengthAdjust="spacingAndGlyphs">LOT E</text>
<text x="363.20" y="1227.50" font-size="23.70" font-weight="bold" fill="#0d2244" stroke="#0d2244" stroke-width="0.50" textLength="56.60" lengthAdjust="spacingAndGlyphs">LOT F</text>
<text x="352.60" y="1358.00" font-size="23.70" font-weight="bold" fill="#535b69" stroke="#535b69" stroke-width="0.50" textLength="112.20" lengthAdjust="spacingAndGlyphs">FACILITIES</text>
<text x="360.20" y="1383.70" font-size="23.70" font-weight="bold" fill="#535b69" stroke="#535b69" stroke-width="0.50" textLength="104.60" lengthAdjust="spacingAndGlyphs">BUILDING</text>
<text x="937.40" y="1377.50" font-size="23.70" font-weight="bold" fill="#535b69" stroke="#535b69" stroke-width="0.50" textLength="112.50" lengthAdjust="spacingAndGlyphs">HALL-COE</text>
<text x="973.40" y="1402.50" font-size="23.70" font-weight="bold" fill="#535b69" stroke="#535b69" stroke-width="0.50" textLength="76.50" lengthAdjust="spacingAndGlyphs">HOUSE</text>
<text x="127.20" y="1492.30" font-size="28.50" font-weight="normal" fill="#1e2228" stroke="#1e2228" stroke-width="0.60" textLength="199.40" lengthAdjust="spacingAndGlyphs">GRANVILLE RD</text>
<g transform="rotate(-1.6 312 1549)"><text x="278" y="1560" font-size="31" fill="#1e2228" stroke="#1e2228" stroke-width="0.6" textLength="69.5" lengthAdjust="spacingAndGlyphs">SR 16</text></g>
<g transform="rotate(-90 61 1287.3)"><text x="61" y="1287.3" font-size="31.5" fill="#1e2228" stroke="#1e2228" stroke-width="0.6" textLength="292" lengthAdjust="spacingAndGlyphs">COUNTRY CLUB DRIVE</text></g>
<path id="ud1" d="M354,433 C400,415 460,390 520,371" fill="none"/>
<text font-size="22.5" font-weight="bold" fill="#1e2228" stroke="#1e2228" stroke-width="0.5"><textPath href="#ud1" textLength="170" lengthAdjust="spacingAndGlyphs">UNIVERSITY DR</textPath></text>
<path id="ud2" d="M84,1287 C140,1298 200,1310 252,1322" fill="none"/>
<text font-size="22.5" font-weight="bold" fill="#1e2228" stroke="#1e2228" stroke-width="0.5"><textPath href="#ud2" textLength="170" lengthAdjust="spacingAndGlyphs">UNIVERSITY DR</textPath></text>
<path fill="#0b2140" fill-rule="evenodd" d="M0,0 H1280 V1585 H0 Z M11,10.5 H1269 V1574.5 H11 Z"/>
</svg></body></html>
